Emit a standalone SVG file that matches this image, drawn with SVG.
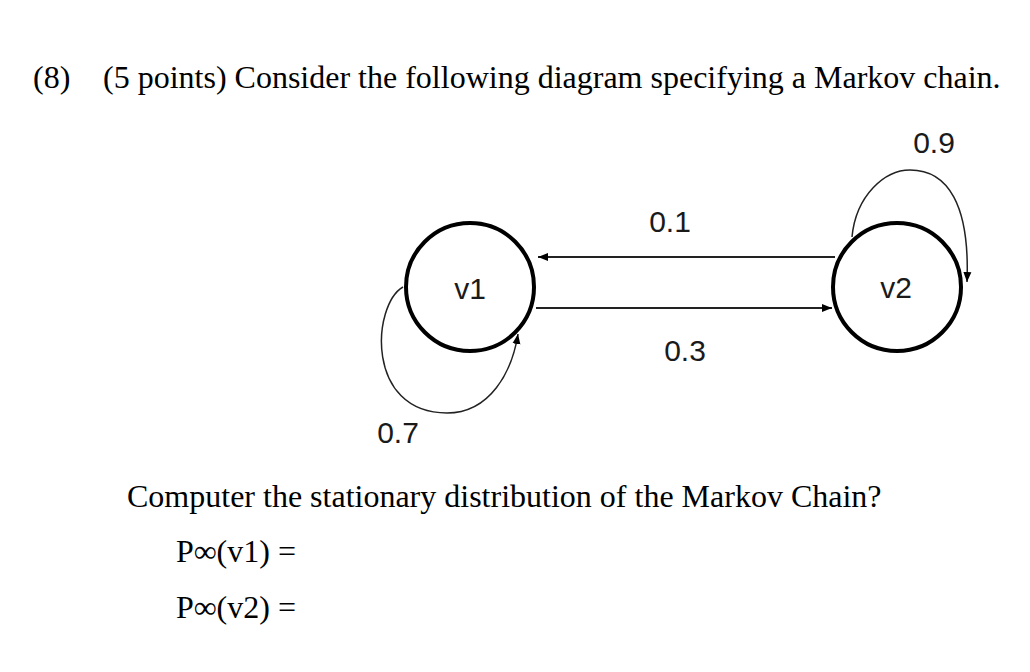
<svg xmlns="http://www.w3.org/2000/svg" width="1030" height="672" viewBox="0 0 1030 672">
<style>
.t{font-family:"Liberation Serif","Times New Roman",serif;font-size:32px;fill:#000}
.s{font-family:"Liberation Sans",Arial,sans-serif;font-size:30px;fill:#1a1a1a;text-anchor:middle}
.node{fill:#fff;stroke:#000;stroke-width:4}
.edge{fill:none;stroke:#222;stroke-width:2}
.loop{fill:none;stroke:#222;stroke-width:1.5}
</style>
<defs>
<marker id="ah" viewBox="0 0 10 10" refX="10" refY="5" markerWidth="10" markerHeight="10" markerUnits="userSpaceOnUse" orient="auto">
<path d="M0,1 L10,5 L0,9 Z" fill="#000"/>
</marker>
</defs>
<rect width="1030" height="672" fill="#fff"/>
<text class="t" x="33" y="88">(8)</text>
<text class="t" x="103" y="88">(5 points) Consider the following diagram specifying a Markov chain.</text>
<g id="connectors">
<line class="edge" x1="835" y1="257" x2="538" y2="257" marker-end="url(#ah)"/>
<line class="edge" x1="536" y1="308" x2="832" y2="308" marker-end="url(#ah)"/>
<path class="loop" d="M403,287 C372,305 365,413 447,413 C490,413 512,372 518,334" marker-end="url(#ah)"/>
<path class="loop" d="M852,237 C856,195 885,170 910,170 C948,170 970,205 967,282" marker-end="url(#ah)"/>
<text class="s" x="670" y="232">0.1</text>
<text class="s" x="685" y="361">0.3</text>
<text class="s" x="398" y="443">0.7</text>
<text class="s" x="934" y="153">0.9</text>
</g>
<g id="v1">
<circle class="node" cx="470" cy="287" r="64"/>
<text class="s" x="470" y="299">v1</text>
</g>
<g id="v2">
<circle class="node" cx="897" cy="287" r="64"/>
<text class="s" x="896" y="298">v2</text>
</g>
<text class="t" x="127" y="507">Computer the stationary distribution of the Markov Chain?</text>
<text class="t" x="176" y="562">P∞(v1) =</text>
<text class="t" x="176" y="618">P∞(v2) =</text>
</svg>
